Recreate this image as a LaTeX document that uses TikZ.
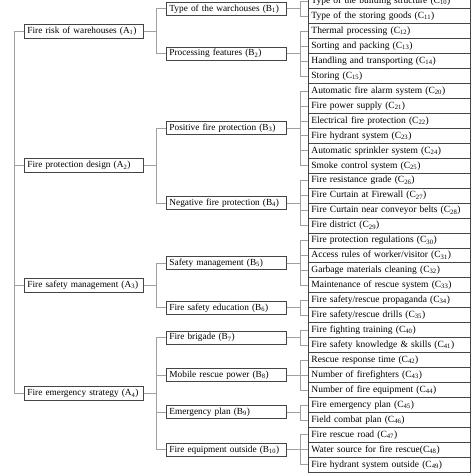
\documentclass[tikz,border=0pt]{standalone}
\usepackage{fontspec}
\setmainfont{Liberation Serif}
\definecolor{boxline}{HTML}{454545}
\definecolor{connline}{HTML}{A0A0A0}
\tikzset{
  basebox/.style={draw=boxline, line width=0.9pt, anchor=west, align=left, inner xsep=3pt, inner ysep=0pt, font=\fontsize{9.3}{10}\selectfont, text=black},
  abox/.style={basebox, text width=113pt, minimum height=14pt},
  bbox/.style={basebox, text width=114pt, minimum height=13pt},
  cbox/.style={basebox, text width=156pt, minimum height=14.95pt, font=\fontsize{9.5}{10}\selectfont},
  conn/.style={draw=connline, line width=0.8pt},
}
\begin{document}
\begin{tikzpicture}[x=1pt,y=-1pt]
\useasboundingbox (0,0) rectangle (474,474);
% A level
\node[abox] (A1) at (24,31.2) {Fire risk of warehouses (A\textsubscript{1})};
\node[abox] (A2) at (24,165.75) {Fire protection design (A\textsubscript{2})};
\node[abox] (A3) at (24,285.35) {Fire safety management (A\textsubscript{3})};
\node[abox] (A4) at (24,393.75) {Fire emergency strategy (A\textsubscript{4})};
% B level
\node[bbox] (B1) at (166,8.8) {Type of the warchouses (B\textsubscript{1})};
\node[bbox] (B2) at (166,53.6) {Processing features (B\textsubscript{2})};
\node[bbox] (B3) at (166,128.4) {Positive fire protection (B\textsubscript{3})};
\node[bbox] (B4) at (166,203.1) {Negative fire protection (B\textsubscript{4})};
\node[bbox] (B5) at (166,262.9) {Safety management (B\textsubscript{5})};
\node[bbox] (B6) at (166,307.8) {Fire safety education (B\textsubscript{6})};
\node[bbox] (B7) at (166,337.7) {Fire brigade (B\textsubscript{7})};
\node[bbox] (B8) at (166,375.05) {Mobile rescue power (B\textsubscript{8})};
\node[bbox] (B9) at (166,412.4) {Emergency plan (B\textsubscript{9})};
\node[bbox] (B10) at (166,449.8) {Fire equipment outside (B\textsubscript{10})};
% C level
\node[cbox] (C10) at (308,{1.3+14.95*0}) {Type of the building structure (C\textsubscript{10})};
\node[cbox] (C11) at (308,{1.3+14.95*1}) {Type of the storing goods (C\textsubscript{11})};
\node[cbox] (C12) at (308,{1.3+14.95*2}) {Thermal processing (C\textsubscript{12})};
\node[cbox] (C13) at (308,{1.3+14.95*3}) {Sorting and packing (C\textsubscript{13})};
\node[cbox] (C14) at (308,{1.3+14.95*4}) {Handling and transporting (C\textsubscript{14})};
\node[cbox] (C15) at (308,{1.3+14.95*5}) {Storing (C\textsubscript{15})};
\node[cbox] (C20) at (308,{1.3+14.95*6}) {Automatic fire alarm system (C\textsubscript{20})};
\node[cbox] (C21) at (308,{1.3+14.95*7}) {Fire power supply (C\textsubscript{21})};
\node[cbox] (C22) at (308,{1.3+14.95*8}) {Electrical fire protection (C\textsubscript{22})};
\node[cbox] (C23) at (308,{1.3+14.95*9}) {Fire hydrant system (C\textsubscript{23})};
\node[cbox] (C24) at (308,{1.3+14.95*10}) {Automatic sprinkler system (C\textsubscript{24})};
\node[cbox] (C25) at (308,{1.3+14.95*11}) {Smoke control system (C\textsubscript{25})};
\node[cbox] (C26) at (308,{1.3+14.95*12}) {Fire resistance grade (C\textsubscript{26})};
\node[cbox] (C27) at (308,{1.3+14.95*13}) {Fire Curtain at Firewall (C\textsubscript{27})};
\node[cbox] (C28) at (308,{1.3+14.95*14}) {Fire Curtain near conveyor belts (C\textsubscript{28})};
\node[cbox] (C29) at (308,{1.3+14.95*15}) {Fire district (C\textsubscript{29})};
\node[cbox] (C30) at (308,{1.3+14.95*16}) {Fire protection regulations (C\textsubscript{30})};
\node[cbox] (C31) at (308,{1.3+14.95*17}) {Access rules of worker/visitor (C\textsubscript{31})};
\node[cbox] (C32) at (308,{1.3+14.95*18}) {Garbage materials cleaning (C\textsubscript{32})};
\node[cbox] (C33) at (308,{1.3+14.95*19}) {Maintenance of rescue system (C\textsubscript{33})};
\node[cbox] (C34) at (308,{1.3+14.95*20}) {Fire safety/rescue propaganda (C\textsubscript{34})};
\node[cbox] (C35) at (308,{1.3+14.95*21}) {Fire safety/rescue drills (C\textsubscript{35})};
\node[cbox] (C40) at (308,{1.3+14.95*22}) {Fire fighting training (C\textsubscript{40})};
\node[cbox] (C41) at (308,{1.3+14.95*23}) {Fire safety knowledge \& skills (C\textsubscript{41})};
\node[cbox] (C42) at (308,{1.3+14.95*24}) {Rescue response time (C\textsubscript{42})};
\node[cbox] (C43) at (308,{1.3+14.95*25}) {Number of firefighters (C\textsubscript{43})};
\node[cbox] (C44) at (308,{1.3+14.95*26}) {Number of fire equipment (C\textsubscript{44})};
\node[cbox] (C45) at (308,{1.3+14.95*27}) {Fire emergency plan (C\textsubscript{45})};
\node[cbox] (C46) at (308,{1.3+14.95*28}) {Field combat plan (C\textsubscript{46})};
\node[cbox] (C47) at (308,{1.3+14.95*29}) {Fire rescue road (C\textsubscript{47})};
\node[cbox] (C48) at (308,{1.3+14.95*30}) {Water source for fire rescue(C\textsubscript{48})};
\node[cbox] (C49) at (308,{1.3+14.95*31}) {Fire hydrant system outside (C\textsubscript{49})};
% left spine
\draw[conn] (A1.west) -- ++(-10,0) |- (A4.west);
\draw[conn] (A2.west) -- ++(-10,0);
\draw[conn] (A3.west) -- ++(-10,0);
% A -> B
\foreach \a/\b in {A1/B1,A1/B2,A2/B3,A2/B4,A3/B5,A3/B6,A4/B7,A4/B8,A4/B9,A4/B10}
  \draw[conn] (\a.east) -- ++(12,0) |- (\b.west);
% B -> C
\foreach \b/\c in {B1/C10,B1/C11,B2/C12,B2/C13,B2/C14,B2/C15,
  B3/C20,B3/C21,B3/C22,B3/C23,B3/C24,B3/C25,B4/C26,B4/C27,B4/C28,B4/C29,
  B5/C30,B5/C31,B5/C32,B5/C33,B6/C34,B6/C35,B7/C40,B7/C41,
  B8/C42,B8/C43,B8/C44,B9/C45,B9/C46,B10/C47,B10/C48,B10/C49}
  \draw[conn] (\b.east) -- ++(13,0) |- (\c.west);
\end{tikzpicture}
\end{document}
